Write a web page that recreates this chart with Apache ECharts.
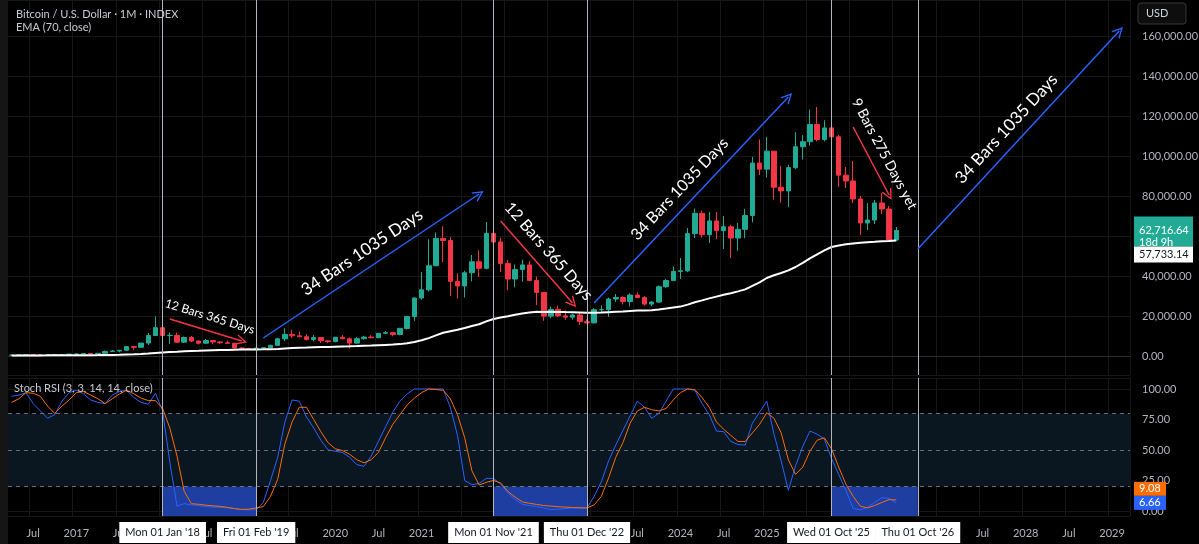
<!DOCTYPE html>
<html lang="en">
<head>
<meta charset="UTF-8">
<title>Bitcoin / U.S. Dollar · 1M · INDEX</title>
<script src="https://cdn.jsdelivr.net/npm/echarts@6/dist/echarts.min.js"></script>
<style>
  html, body { margin: 0; padding: 0; background: #000; }
  #main { width: 1199px; height: 544px; }
</style>
</head>
<body>
<div id="main"></div>
<script>
// monthly axis: Apr 2016 .. Mar 2029
var firstYear = 2016, firstMonth = 4, monthCount = 156;
var months = [];
for (var k = 0; k < monthCount; k++) {
  var t = firstMonth - 1 + k;
  months.push((firstYear + Math.floor(t / 12)) + '-' + ('0' + (t % 12 + 1)).slice(-2));
}

// monthly candles [open, close, low, high], Apr 2016 .. Jul 2026
var candles = [
  // 2016
  [416,448,412,467],[448,531,440,550],[531,673,531,778],[673,624,600,704],[624,575,470,626],[575,609,570,628],[609,700,604,720],[700,742,685,755],[742,964,740,979],
  // 2017
  [964,970,755,1150],[970,1190,915,1200],[1190,1080,890,1290],[1080,1350,1060,1350],[1350,2300,1350,2760],[2300,2480,2200,2980],[2480,2875,1840,2900],[2875,4700,2600,4770],[4700,4340,2950,4980],[4340,6470,4160,6470],[6470,10230,5500,11500],[10230,14160,10000,19800],
  // 2018
  [14160,10220,9200,17200],[10220,10330,6000,11800],[10330,6930,6600,11700],[6930,9240,6500,9750],[9240,7490,7100,9990],[7490,6400,5780,7760],[6400,7730,6100,8500],[7730,7030,5880,7760],[7030,6630,6100,7400],[6630,6370,6200,7680],[6370,4020,3500,6600],[4020,3740,3120,4300],
  // 2019
  [3740,3460,3350,4100],[3460,3850,3380,4200],[3850,4100,3730,4130],[4100,5320,4040,5640],[5320,8570,5320,9100],[8570,10820,7460,13880],[10820,10080,9070,13200],[10080,9630,9320,12330],[9630,8290,7710,10900],[8290,9200,7300,10540],[9200,7570,6520,9510],[7570,7190,6430,7740],
  // 2020
  [7190,9350,6870,9550],[9350,8600,8450,10500],[8600,6440,3800,9190],[6440,8660,6150,9460],[8660,9460,8120,10080],[9460,9140,8900,10380],[9140,11350,8980,11450],[11350,11680,10930,12480],[11680,10780,9880,12100],[10780,13800,10400,14100],[13800,19700,13200,19900],[19700,28990,17600,29300],
  // 2021
  [28990,33110,28130,41950],[33110,45140,32300,58350],[45140,58800,44950,61790],[58800,57750,47000,64850],[57750,37330,30000,59500],[37330,35040,28800,41300],[35040,41630,29280,42600],[41630,47130,37330,50500],[47130,43820,39600,52900],[43820,61320,43290,67000],[61320,57000,53300,69000],[57000,46300,42000,59100],
  // 2022
  [46300,38480,32900,47990],[38480,43190,34300,45800],[43190,45540,37150,48200],[45540,37710,37600,47450],[37710,31790,25400,39800],[31790,19940,17600,31950],[19940,23300,18800,24670],[23300,20050,19600,25200],[20050,19430,18150,22800],[19430,20490,18200,21000],[20490,17170,15480,21450],[17170,16550,16250,18400],
  // 2023
  [16550,23140,16500,23950],[23140,23150,21400,25250],[23150,28480,19600,29200],[28480,29250,26940,31000],[29250,27220,25800,29820],[27220,30480,24800,31400],[30480,29230,28860,31800],[29230,25940,25160,30000],[25940,26970,24900,27470],[26970,34660,26560,35200],[34660,37720,34100,38400],[37720,42280,37600,44700],
  // 2024
  [42280,42580,38500,48970],[42580,61200,41900,64000],[61200,71330,59000,73800],[71330,60640,59200,72700],[60640,67530,56550,71950],[67530,62680,58400,71950],[62680,64620,53500,70000],[64620,58970,49000,65600],[58970,63330,52600,66500],[63330,70220,58900,73600],[70220,96450,66800,99600],[96450,93430,90500,108300],
  // 2025
  [93430,102430,89200,109600],[102430,84370,78200,102500],[84370,82550,76600,95000],[82550,94200,74400,95700],[94200,104640,93400,111900],[104640,107140,98200,110400],[107140,115760,105300,123200],[115760,108250,107300,124500],[108250,114050,107300,117900],[114050,109600,103500,126200],[109600,90400,84500,110500],[90400,87500,84000,94500],
  // 2026
  [87500,78500,76500,97500],[78500,66500,60500,80000],[66500,68000,63000,76500],[68000,76500,66000,78000],[76500,73500,71000,81500],[73500,58000,57700,75000],[58000,62716.64,57700,64500]
];

// EMA (70, close)
var ema70 = [
  260,270,290,300,310,320,335,350,370,
  390,410,430,460,510,560,620,730,830,990,1240,1560,
  1780,2000,2120,2320,2470,2580,2730,2850,2960,3060,3130,3190,
  3250,3300,3350,3410,3560,3770,3950,4110,4230,4370,4460,4540,
  4670,4780,4830,4940,5070,5190,5370,5550,5700,5940,6340,7040,
  7840,8940,10300,11600,12400,13100,14000,15000,15900,17300,18500,19300,
  19900,20600,21300,21800,22100,22000,22100,22050,21950,21900,21750,21600,
  21650,21700,21900,22100,22250,22500,22700,22800,22900,23250,23700,24200,
  24700,25700,26900,27800,28800,29700,30600,31400,32300,33300,35100,36800,
  39000,40400,41500,42800,44500,46600,48800,50800,52800,54500,55300,55900,
  56300,56600,56900,57100,57400,57500,57733.14
];

// Stoch RSI (3, 3, 14, 14, close)
var stochK = [
  94,95,97,88,82,76,79,90,97,99, 96,91,89,88,95,98,99,93,89,87.5,
  96.5,82,40,4,6,5,4.5,3.6,3.2,3, 2.5,1.8,1.2,1,1,7,25,44,73,91,
  90,77,68,58,50,49,48,44,38,36.6, 45,57,69,81,90,96,100,100,100,100,
  100,85,62,25,21.5,22.6,26.7,26.7,22,15, 9.5,5.5,4.5,3.6,2.5,1.2,1.5,2,2.5,2.5,
  2.5,12,24,41,54,66,78,90,85,76, 80,90,100,100,100,99,88,79,65.5,65,
  57,54.5,54,72,81,90,63,41,17,37, 53,65.5,63,59,43,30,17,2,1,3,
  7,10.9,10.4,6.66
];
var stochD = [
  89,92,97,96.5,94,86,80,86,91,97, 98,95,92,88,92,96,99,96,92.5,90.5,
  90.5,84,68,45,16,6,5.5,4.8,4.2,3.8, 3,2,1.3,1.5,2.5,3.6,12,26,55,73,
  85,85,75,65,56,51,49.5,46.5,42,39.5, 42,48,60,71,79,87,92.5,97,100,99.5,
  99,92,79,60,33,21.3,23.5,25,23,16, 11.5,7.5,6.3,5.4,4.5,4,3.5,3.2,2.9,2.6,
  2.5,5,12,27,44,56,72,82,85,83, 82,84,91,97,100,99.5,93,85,73,67,
  62,57,57,64,71,80.5,76,64,42,30, 36,49,58,60,51,36,22,12,4,2.5,
  4.5,7,9.3,9.08
];

// vertical date markers and the oversold boxes between them
var markers = [
  ['2018-01', "Mon 01 Jan '18"], ['2019-02', "Fri 01 Feb '19"],
  ['2021-11', "Mon 01 Nov '21"], ['2022-12', "Thu 01 Dec '22"],
  ['2025-10', "Wed 01 Oct '25"], ['2026-10', "Thu 01 Oct '26"]
];
var zones = [['2018-01', '2019-02'], ['2021-11', '2022-12'], ['2025-10', '2026-10']];

// drawn trend arrows: [from month, from price], [to month, to price]
var RED = '#f23645', BLUE = '#2962ff';
var arrows = [
  { from: ['2018-02', 18500], to: ['2018-12', 7500],   color: RED,  text: '12 Bars 365 Days',   size: 12 },
  { from: ['2019-03', 9000],  to: ['2021-09', 81000],  color: BLUE, text: '34 Bars 1035 Days',  size: 17 },
  { from: ['2021-12', 67500], to: ['2022-10', 26500],  color: RED,  text: '12 Bars 365 Days',   size: 16 },
  { from: ['2023-01', 26500], to: ['2025-04', 129500], color: BLUE, text: '34 Bars 1035 Days',  size: 16 },
  { from: ['2026-01', 114500], to: ['2026-06', 80500], color: RED,  text: '9 Bars 275 Days yet', size: 14 },
  { from: ['2026-10', 53500], to: ['2029-02', 162500], color: BLUE, text: '34 Bars 1035 Days',  size: 17 }
];

var lastPrice = 62716.64, lastEma = 57733.14, timeLeft = '18d 9h';
var rsiMin = -4.1, rsiMax = 109;

var FONT = 'Lato, "Noto Sans", sans-serif';
var CHEVRON = 'path://M5,0 L10,10 L8.6,10 L5,2.8 L1.4,10 L0,10 Z';

function fmtPrice(v) {
  return v.toLocaleString('en-US', { minimumFractionDigits: 2, maximumFractionDigits: 2 });
}
function isGridMonth(i, v) {
  var m = v.slice(5);
  return m === '01' || m === '07';
}
function monthLabel(v) {
  var m = v.slice(5);
  if (m === '01') return v.slice(0, 4);
  if (m === '07') return 'Jul';
  return '';
}

var chart = echarts.init(document.getElementById('main'));

var option = {
  backgroundColor: '#000',
  animation: false,
  textStyle: { fontFamily: FONT },
  grid: [
    { left: 8, right: 69, top: 0, bottom: 169, outerBoundsMode: 'none' },
    { left: 8, right: 69, top: 378, bottom: 28, outerBoundsMode: 'none' }
  ],
  xAxis: [
    {
      type: 'category', gridIndex: 0, data: months, boundaryGap: true,
      axisLine: { show: true, lineStyle: { color: '#2c2c2c' } },
      axisTick: { show: false }, axisLabel: { show: false },
      splitLine: { show: true, interval: isGridMonth, lineStyle: { color: '#161616' } }
    },
    {
      type: 'category', gridIndex: 1, data: months, boundaryGap: true,
      axisLine: { show: false }, axisTick: { show: false },
      axisLabel: { interval: isGridMonth, formatter: monthLabel, color: '#b2b5be', fontSize: 11, margin: 12, fontFamily: FONT },
      splitLine: { show: true, interval: isGridMonth, lineStyle: { color: '#161616' } }
    }
  ],
  yAxis: [
    {
      type: 'value', gridIndex: 0, position: 'right', min: -9500, max: 178000,
      splitNumber: 9, minInterval: 20000, maxInterval: 20000,
      axisLine: { show: false }, axisTick: { show: false },
      axisLabel: { color: '#b2b5be', fontSize: 11, margin: 12, fontFamily: FONT,
        showMinLabel: false, showMaxLabel: false, formatter: fmtPrice },
      splitLine: { lineStyle: { color: '#161616' } }
    },
    {
      type: 'value', gridIndex: 1, position: 'right', min: rsiMin, max: rsiMax,
      minInterval: 25, maxInterval: 25,
      axisLine: { show: false }, axisTick: { show: false },
      axisLabel: { color: '#b2b5be', fontSize: 11, margin: 12, fontFamily: FONT,
        showMinLabel: false, showMaxLabel: false, formatter: function (v) { return v.toFixed(2); } },
      splitLine: { lineStyle: { color: '#161616' } }
    }
  ],
  series: [
    {
      name: 'BTCUSD', type: 'candlestick', xAxisIndex: 0, yAxisIndex: 0,
      data: candles, barWidth: 5,
      itemStyle: { color: '#22ab94', color0: RED, borderColor: '#22ab94', borderColor0: RED, borderWidth: 1 },
      markLine: {
        silent: true, symbol: 'none', label: { show: false },
        lineStyle: { color: '#b2b5be', width: 1, type: 'solid' },
        data: markers.map(function (m) { return { xAxis: m[0] }; })
      }
    },
    {
      name: 'EMA 70', type: 'line', xAxisIndex: 0, yAxisIndex: 0, clip: false,
      data: ema70, showSymbol: false, symbol: 'none',
      lineStyle: { color: '#ffffff', width: 2 },
      markLine: {
        silent: true, symbol: ['none', CHEVRON], symbolSize: [11, 11],
        data: arrows.map(function (a) {
          return [
            { coord: a.from, lineStyle: { color: a.color, width: 1.5, type: 'solid' },
              label: { show: true, position: 'insideMiddleTop', formatter: a.text, color: '#ffffff',
                fontSize: a.size, fontFamily: FONT, distance: 8 } },
            { coord: a.to }
          ];
        })
      }
    },
    {
      name: 'K', type: 'line', xAxisIndex: 1, yAxisIndex: 1, clip: false,
      data: stochK, showSymbol: false, symbol: 'none',
      lineStyle: { color: BLUE, width: 1 },
      markArea: { silent: true, itemStyle: { color: '#0a1620' }, data: [[{ yAxis: 20 }, { yAxis: 80 }]] },
      markLine: {
        silent: true, symbol: 'none', label: { show: false },
        lineStyle: { color: '#6a6d78', width: 1, type: [4, 4] },
        data: [{ yAxis: 80 }, { yAxis: 50 }, { yAxis: 20 }]
      }
    },
    {
      name: 'D', type: 'line', xAxisIndex: 1, yAxisIndex: 1, clip: false,
      data: stochD, showSymbol: false, symbol: 'none',
      lineStyle: { color: '#ff6d00', width: 1 },
      markArea: {
        silent: true, itemStyle: { color: '#1e3ea1' },
        data: zones.map(function (z) { return [{ xAxis: z[0], yAxis: 20 }, { xAxis: z[1], yAxis: rsiMin }]; })
      },
      markLine: {
        silent: true, symbol: 'none',
        lineStyle: { color: '#b2b5be', width: 1, type: 'solid' },
        label: { show: true, position: 'start', formatter: '{b}', backgroundColor: '#ffffff', color: '#131722',
          fontSize: 11, fontFamily: FONT, padding: [5, 6, 5, 6], distance: 6 },
        data: markers.map(function (m) { return { name: m[1], xAxis: m[0] }; })
      }
    }
  ]
};

chart.setOption(option);

// price tags on the scales, placed from the axis values
var yLast = chart.convertToPixel({ yAxisIndex: 0 }, lastPrice);
var yK = chart.convertToPixel({ yAxisIndex: 1 }, stochK[stochK.length - 1]);
var yD = chart.convertToPixel({ yAxisIndex: 1 }, stochD[stochD.length - 1]);
var tagX = 1134;
var greenTop = yLast - 14;
var blueTop = yK - 7;
var orangeTop = Math.min(yD - 7, blueTop - 14);

function txt(x, y, s, color, size) {
  return { type: 'text', z: 100, style: { x: x, y: y, text: s, fill: color, fontSize: size || 11,
    fontFamily: FONT, verticalAlign: 'middle', align: 'left' } };
}

chart.setOption({
  graphic: [
    { type: 'rect', z: 100, shape: { x: 0, y: 0, width: 8, height: 544 }, style: { fill: '#151515' } },
    txt(16, 14, 'Bitcoin / U.S. Dollar · 1M · INDEX', '#c8cbd2'),
    txt(16, 27, 'EMA (70, close)', '#c8cbd2'),
    txt(14, 388, 'Stoch RSI (3, 3, 14, 14, close)', '#c8cbd2'),
    { type: 'rect', z: 100, shape: { x: 1138, y: 3, width: 48, height: 21, r: 3 }, style: { fill: '#0e0e0e', stroke: '#363636', lineWidth: 1 } },
    txt(1146, 13.5, 'USD', '#d1d4dc'),
    { type: 'rect', z: 100, shape: { x: tagX, y: greenTop, width: 59, height: 30 }, style: { fill: '#22ab94' } },
    txt(tagX + 5, yLast, fmtPrice(lastPrice), '#ffffff'),
    txt(tagX + 5, yLast + 12, timeLeft, '#ffffff'),
    { type: 'rect', z: 100, shape: { x: tagX, y: greenTop + 30, width: 59, height: 16 }, style: { fill: '#ffffff' } },
    txt(tagX + 5, greenTop + 38, fmtPrice(lastEma), '#131722'),
    { type: 'rect', z: 100, shape: { x: tagX, y: orangeTop, width: 32, height: 14 }, style: { fill: '#ff6d00' } },
    txt(tagX + 5, orangeTop + 7, stochD[stochD.length - 1].toFixed(2), '#ffffff'),
    { type: 'rect', z: 100, shape: { x: tagX, y: blueTop, width: 32, height: 14 }, style: { fill: BLUE } },
    txt(tagX + 5, blueTop + 7, stochK[stochK.length - 1].toFixed(2), '#ffffff')
  ]
});
</script>
</body>
</html>
